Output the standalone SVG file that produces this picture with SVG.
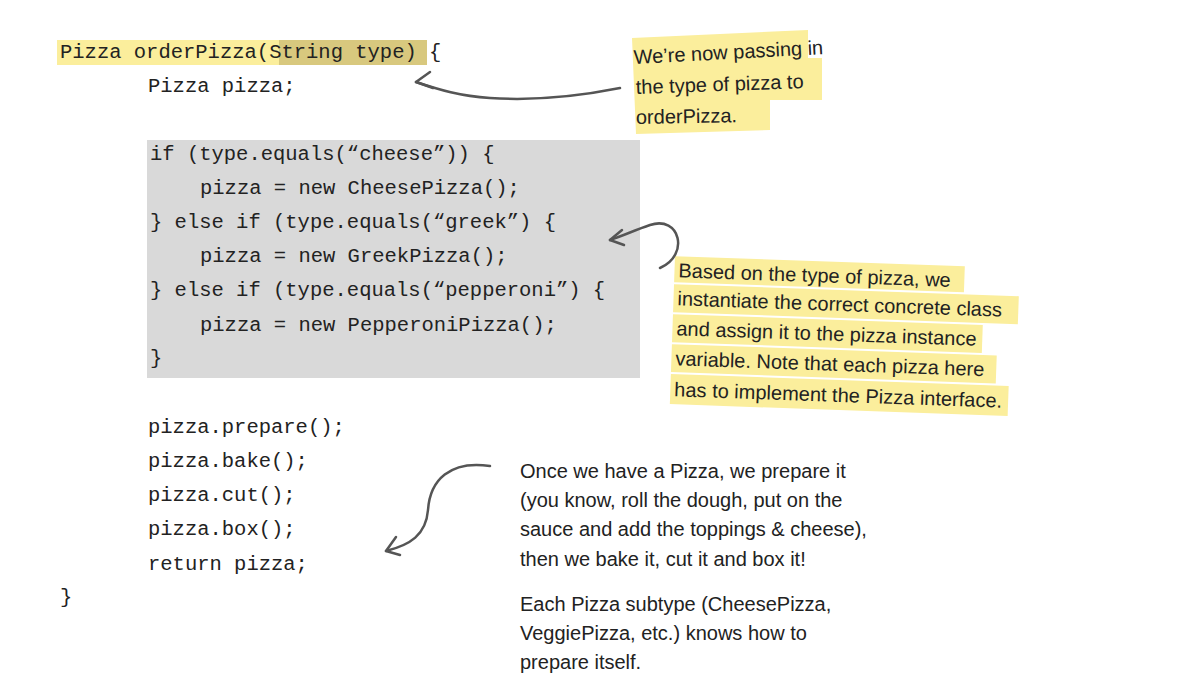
<svg xmlns="http://www.w3.org/2000/svg" width="1200" height="686" viewBox="0 0 1200 686">
<style>
.c{font-family:"Liberation Mono",monospace;font-size:20.5px;fill:#222}
.h{font-family:"Liberation Sans Narrow","Liberation Sans",sans-serif;font-size:20px;fill:#222}
.a{fill:none;stroke:#555;stroke-width:2.5;stroke-linecap:round}
.y{fill:#fbee9c}
</style>
<rect width="1200" height="686" fill="#fff"/>
<g id="code">
<rect x="57" y="40" width="222" height="25" class="y"/>
<rect x="279" y="40" width="148" height="25" fill="#d8c87e"/>
<rect x="147" y="140" width="493" height="238" fill="#d9d9d9"/>
<text class="c" x="60" y="58">Pizza orderPizza(String type) {</text>
<text class="c" x="148" y="92">Pizza pizza;</text>
<text class="c" x="150" y="160">if (type.equals(“cheese”)) {</text>
<text class="c" x="200" y="194">pizza = new CheesePizza();</text>
<text class="c" x="150" y="228">} else if (type.equals(“greek”) {</text>
<text class="c" x="200" y="262">pizza = new GreekPizza();</text>
<text class="c" x="150" y="296">} else if (type.equals(“pepperoni”) {</text>
<text class="c" x="200" y="331">pizza = new PepperoniPizza();</text>
<text class="c" x="150" y="364">}</text>
<text class="c" x="148" y="433">pizza.prepare();</text>
<text class="c" x="148" y="467">pizza.bake();</text>
<text class="c" x="148" y="501">pizza.cut();</text>
<text class="c" x="148" y="535">pizza.box();</text>
<text class="c" x="148" y="570">return pizza;</text>
<text class="c" x="60" y="603">}</text>
</g>
<g id="note1">
<path class="y" d="M632 38 L808 30 L808 58 L822 58 L822 100 L770 100 L770 130 L636 134 Z"/>
<text class="h" x="634" y="64" transform="rotate(-3 634 64)">We’re now passing in</text>
<text class="h" x="636" y="94" transform="rotate(-2 636 94)">the type of pizza to</text>
<text class="h" x="636" y="124" transform="rotate(-1 636 124)">orderPizza.</text>
</g>
<g id="note2" transform="rotate(2 840 345)">
<rect x="672" y="262" width="290" height="26" class="y"/>
<rect x="672" y="290" width="345" height="28" class="y"/>
<rect x="672" y="320" width="310" height="28" class="y"/>
<rect x="672" y="350" width="325" height="28" class="y"/>
<rect x="672" y="380" width="338" height="30" class="y"/>
<text class="h" x="676" y="283">Based on the type of pizza, we</text>
<text class="h" x="676" y="311">instantiate the correct concrete class</text>
<text class="h" x="676" y="341">and assign it to the pizza instance</text>
<text class="h" x="676" y="371">variable.  Note that each pizza here</text>
<text class="h" x="676" y="402">has to implement the Pizza interface.</text>
</g>
<g id="note3">
<text class="h" x="520" y="478">Once we have a Pizza, we prepare it</text>
<text class="h" x="520" y="507">(you know, roll the dough, put on the</text>
<text class="h" x="520" y="536">sauce and add the toppings &amp; cheese),</text>
<text class="h" x="520" y="566">then we bake it, cut it and box it!</text>
<text class="h" x="520" y="611">Each Pizza subtype (CheesePizza,</text>
<text class="h" x="520" y="640">VeggiePizza, etc.) knows how to</text>
<text class="h" x="520" y="669">prepare itself.</text>
</g>
<g id="connectors">
<path class="a" d="M620 88 C560 100 520 100 490 98 C460 96 440 90 416 82"/>
<path class="a" d="M416 82 L430 72 M416 82 L433 88"/>
<path class="a" d="M660 268 C690 255 680 215 650 225 C635 230 625 235 610 240"/>
<path class="a" d="M610 240 L622 230 M610 240 L624 245"/>
<path class="a" d="M490 466 C450 460 430 480 428 510 C426 535 410 545 386 551"/>
<path class="a" d="M386 551 L396 537 M386 551 L400 555"/>
</g>
</svg>
